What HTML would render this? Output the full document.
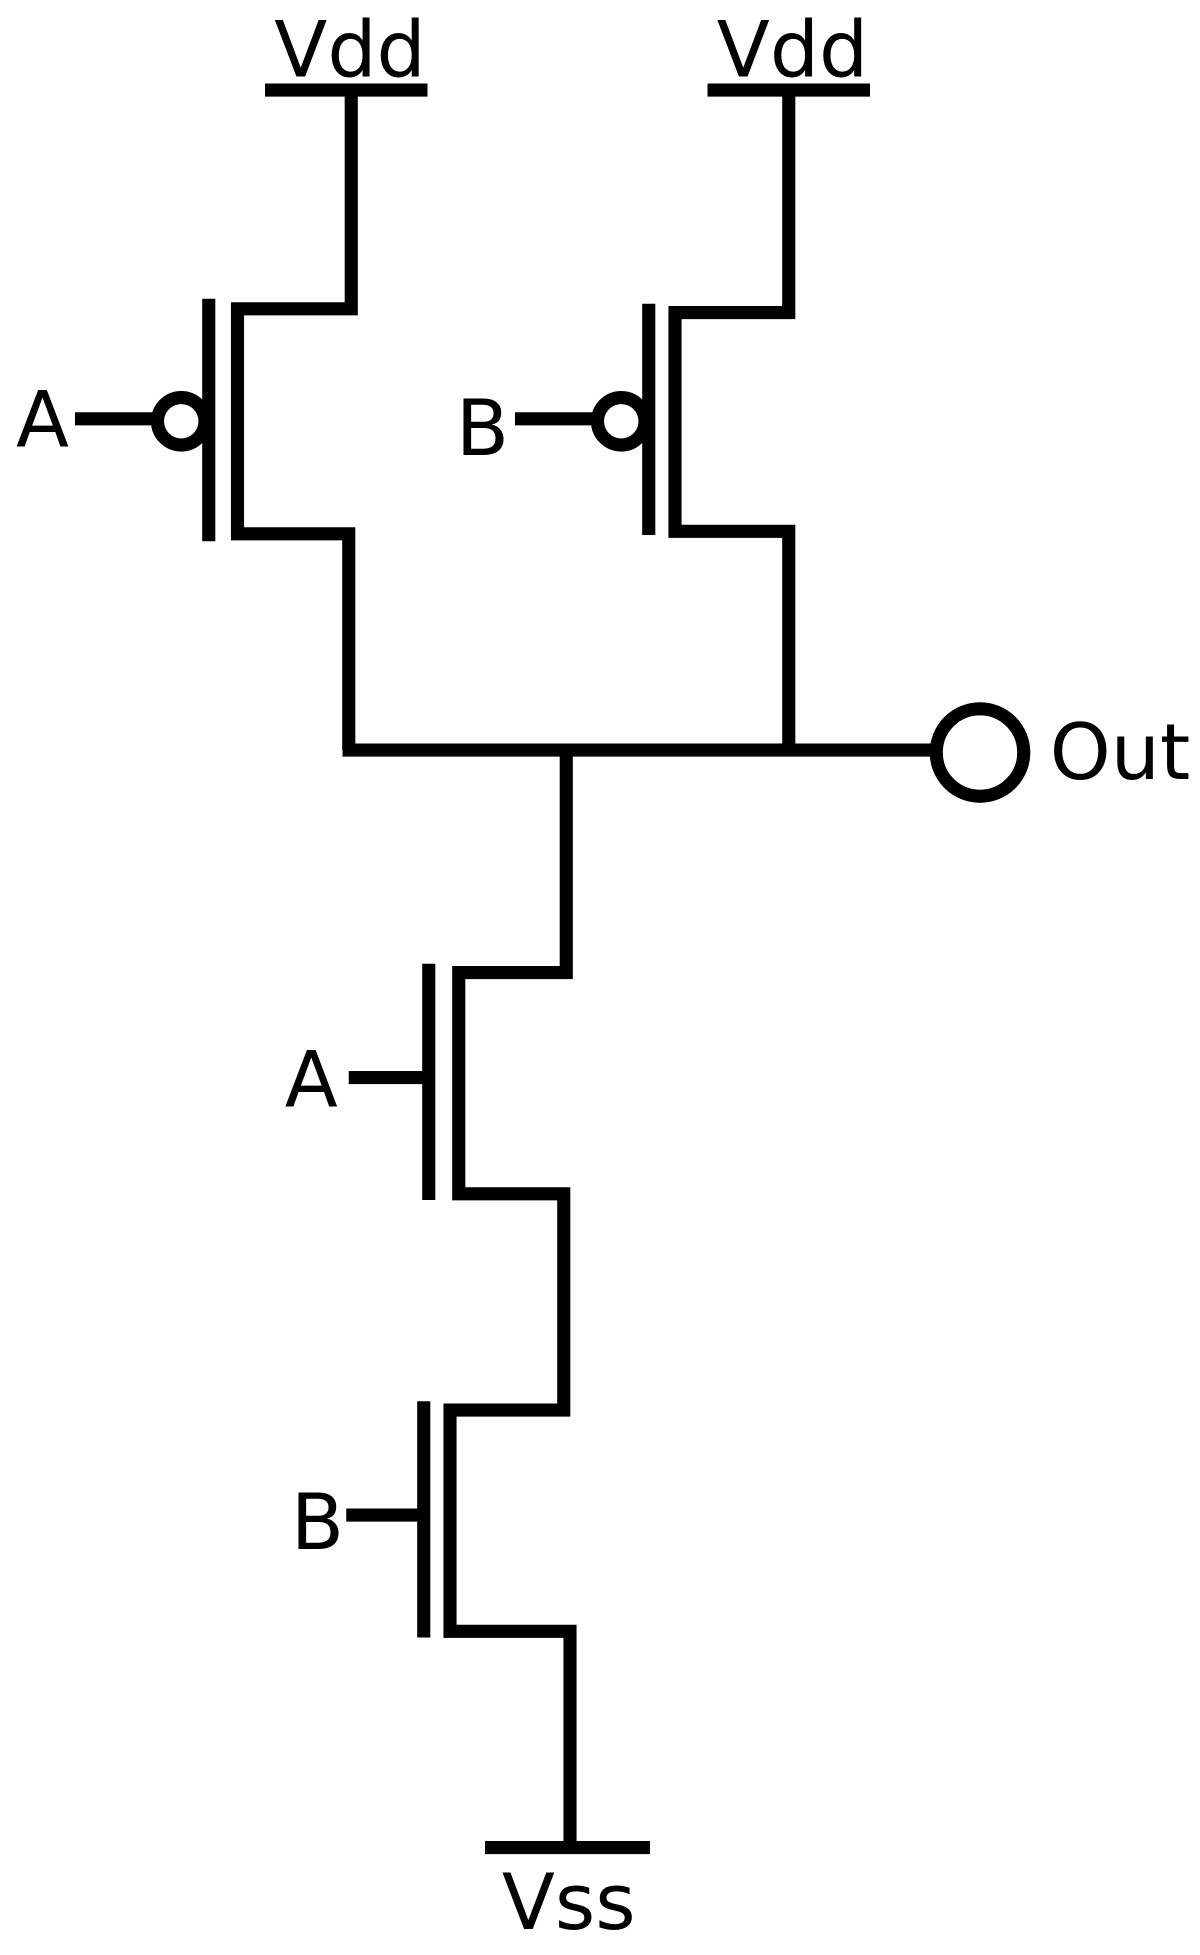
<!DOCTYPE html>
<html><head><style>html,body{margin:0;padding:0;background:#fff}svg{display:block}</style></head>
<body>
<svg width="1200" height="1955" viewBox="0 0 960 1564" xmlns="http://www.w3.org/2000/svg">
<g fill="none" stroke="#000" stroke-width="10.5" stroke-linecap="butt" stroke-linejoin="miter">
<line x1="212" y1="72" x2="342" y2="72"/>
<polyline points="281,72 281,247 190,247 190,427 279,427 279,600"/>
<line x1="167" y1="239" x2="167" y2="433"/>
<circle cx="145" cy="337" r="19"/>
<line x1="60" y1="335" x2="126" y2="335"/>
<line x1="566" y1="72" x2="696" y2="72"/>
<polyline points="631,72 631,250 540,250 540,425 631,425 631,600"/>
<line x1="519" y1="243" x2="519" y2="428"/>
<circle cx="497" cy="337" r="19"/>
<line x1="412" y1="335" x2="478" y2="335"/>
<line x1="274" y1="600" x2="746" y2="600"/>
<circle cx="784" cy="602" r="35"/>
<polyline points="453,600 453,778 367,778 367,955 451,955 451,1128 360,1128 360,1305 456,1305 456,1478"/>
<line x1="343" y1="771" x2="343" y2="960"/>
<line x1="279" y1="862" x2="338" y2="862"/>
<line x1="339" y1="1121" x2="339" y2="1310"/>
<line x1="277" y1="1212" x2="334" y2="1212"/>
<line x1="388" y1="1478" x2="520" y2="1478"/>
</g>
<g font-family="'DejaVu Sans','Liberation Sans',sans-serif" font-size="62" fill="#000">
<text x="280" y="61" text-anchor="middle">Vdd</text>
<text x="634" y="61" text-anchor="middle">Vdd</text>
<text x="34" y="357" text-anchor="middle">A</text>
<text x="386" y="364" text-anchor="middle">B</text>
<text x="896" y="623" text-anchor="middle">Out</text>
<text x="249" y="885" text-anchor="middle">A</text>
<text x="254" y="1239" text-anchor="middle">B</text>
<text x="455" y="1543" text-anchor="middle">Vss</text>
</g>
</svg>
</body></html>
